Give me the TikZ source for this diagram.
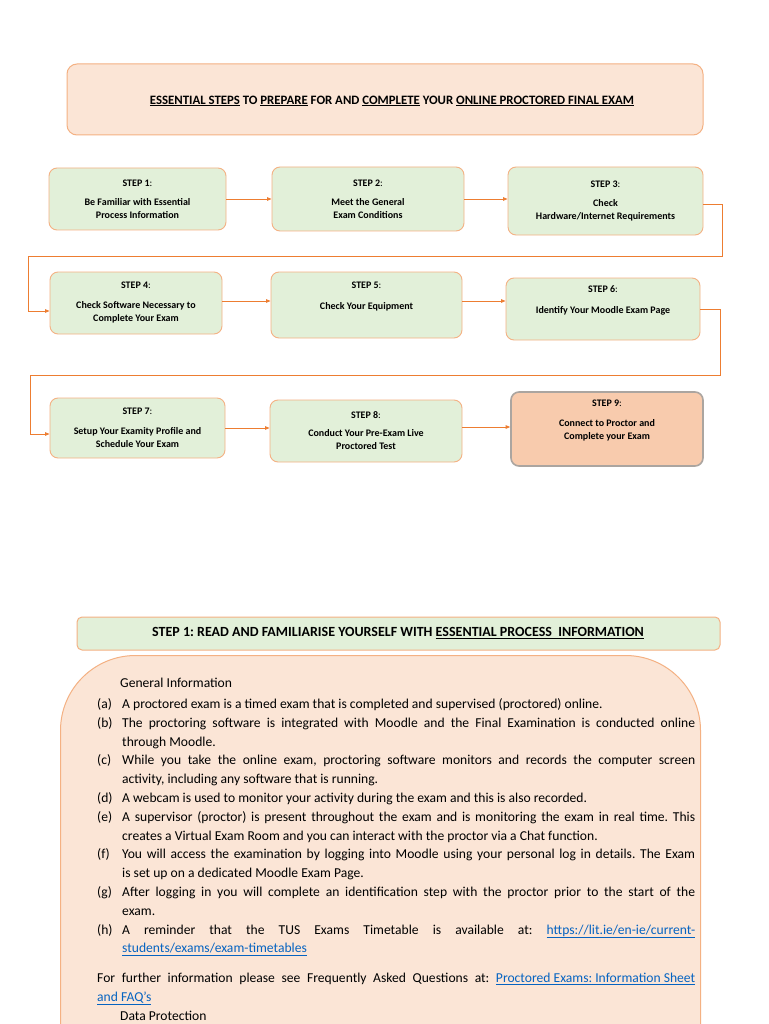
\documentclass[tikz,border=0pt]{standalone}
\usepackage{fontspec}
\setmainfont{Carlito}
\usetikzlibrary{arrows.meta}
\definecolor{gfill}{HTML}{E2F0D9}
\definecolor{pfill}{HTML}{FBE5D6}
\definecolor{pfillB}{HTML}{F8CBAD}
\definecolor{oline}{HTML}{F4B183}
\definecolor{oarrow}{HTML}{ED7D31}
\definecolor{gline}{HTML}{ABA5A0}
\definecolor{linkc}{HTML}{0563C1}
\newcommand\lnk[1]{\textcolor{linkc}{\underline{#1}}}
\newcommand\itm[1]{\par\hangindent=25pt\hangafter=1\noindent\makebox[25pt][l]{#1}}
\newcommand\stp[1]{STEP #1\textmd{:}}
\frenchspacing
\begin{document}
\begin{tikzpicture}[x=1pt,y=-1pt,
  stepbox/.style={draw=oline, fill=gfill, line width=0.9pt, rounded corners=8pt,
    align=center, font=\fontsize{10}{13}\selectfont\bfseries, inner sep=2pt},
  arr/.style={draw=oarrow, line width=0.8pt, -{Triangle[length=4.5pt,width=3.5pt]}},
  peachbox/.style={draw=oline, fill=pfill, line width=1pt}]
\useasboundingbox (0,0) rectangle (768,1024);
\clip (0,0) rectangle (768,1024);
\fill[white] (0,0) rectangle (768,1024);

% title
\node[peachbox, rounded corners=10pt, minimum width=636pt, minimum height=71pt] (titlebox) at (385,99.5) {};
\node[font=\fontsize{12.8}{14}\selectfont\bfseries] (titletext) at (392,101)
  {\underline{ESSENTIAL STEPS} TO \underline{PREPARE} FOR AND \underline{COMPLETE} YOUR \underline{ONLINE PROCTORED FINAL EXAM}};

% steps
\node[stepbox, minimum width=177pt, minimum height=62pt] (s1) at (137.5,199)
  {\stp{1}\\[6pt]Be Familiar with Essential\\Process Information};
\node[stepbox, minimum width=192pt, minimum height=64pt] (s2) at (368,199)
  {\stp{2}\\[6pt]Meet the General\\Exam Conditions};
\node[stepbox, minimum width=195pt, minimum height=68pt] (s3) at (605.5,201)
  {\stp{3}\\[6pt]Check\\Hardware/Internet Requirements};
\node[stepbox, minimum width=172pt, minimum height=62pt] (s4) at (136,303)
  {\stp{4}\\[7pt]Check Software Necessary to\\Complete Your Exam};
\node[stepbox, minimum width=191pt, minimum height=66pt] (s5) at (366.5,305)
  {\stp{5}\\[8pt]Check Your Equipment\\[5pt]};
\node[stepbox, minimum width=194pt, minimum height=62pt] (s6) at (603,309)
  {\stp{6}\\[8pt]Identify Your Moodle Exam Page\\[5pt]};
\node[stepbox, minimum width=175pt, minimum height=60pt] (s7) at (137.5,428)
  {\stp{7}\\[7pt]Setup Your Examity Profile and\\Schedule Your Exam};
\node[stepbox, minimum width=192pt, minimum height=62pt] (s8) at (366,431)
  {\stp{8}\\[5pt]Conduct Your Pre-Exam Live\\Proctored Test};
\node[stepbox, draw=gline, fill=pfillB, line width=1.6pt, minimum width=192pt, minimum height=74pt] (s9) at (607,429)
  {\stp{9}\\[7pt]Connect to Proctor and\\Complete your Exam\\[6pt]};

% arrows
\draw[arr] (s1.east) -- (s1.east -| s2.west);
\draw[arr] (s2.east) -- (s2.east -| s3.west);
\draw[arr] ([yshift=2pt]s4.east) -- ([yshift=2pt]s4.east -| s5.west);
\draw[arr] ([yshift=4pt]s5.east) -- ([yshift=4pt]s5.east -| s6.west);
\draw[arr] (s7.east) -- (s7.east -| s8.west);
\draw[arr] ([yshift=4pt]s8.east) -- ([yshift=4pt]s8.east -| s9.west);
\coordinate (r1) at (722,256);
\coordinate (l1) at (28,256);
\draw[arr] ([yshift=-3pt]s3.east) -| (r1) -- (l1) |- ([yshift=-8pt]s4.west);
\coordinate (r2) at (720,375);
\coordinate (l2) at (30,375);
\draw[arr] (s6.east) -| (r2) -- (l2) |- ([yshift=-6pt]s7.west);

% section header
\node[draw=oline, fill=gfill, line width=1pt, rounded corners=5pt, minimum width=643pt, minimum height=33pt] (hdr) at (398.5,633.5) {};
\node[font=\fontsize{14}{15}\selectfont\bfseries] (hdrtext) at (398,633)
  {STEP 1: READ AND FAMILIARISE YOURSELF WITH \underline{ESSENTIAL PROCESS\ \ INFORMATION}};

% info box
\node[peachbox, rounded corners=75pt, minimum width=640pt, minimum height=500pt, anchor=north west] (infobox) at (60,655) {};
\node[anchor=north west, inner sep=0pt, text width=598pt, align=justify, font=\fontsize{13.6}{18.8}\selectfont] (body) at (97,678) {%
\hspace*{23pt}General Information\par\vspace{2pt}
\itm{(a)}A proctored exam is a timed exam that is completed and supervised (proctored) online.
\itm{(b)}The proctoring software is integrated with Moodle and the Final Examination is conducted online\linebreak through Moodle.
\itm{(c)}While you take the online exam, proctoring software monitors and records the computer screen\linebreak activity, including any software that is running.
\itm{(d)}A webcam is used to monitor your activity during the exam and this is also recorded.
\itm{(e)}A supervisor (proctor) is present throughout the exam and is monitoring the exam in real time. This\linebreak creates a Virtual Exam Room and you can interact with the proctor via a Chat function.
\itm{(f)}You will access the examination by logging into Moodle using your personal log in details. The Exam\linebreak is set up on a dedicated Moodle Exam Page.
\itm{(g)}After logging in you will complete an identification step with the proctor prior to the start of the\linebreak exam.
\itm{(h)}A reminder that the TUS Exams Timetable is available at: \lnk{https://lit.ie/en-ie/current-}\linebreak\lnk{students/exams/exam-timetables}\par
\vspace{11pt}
\noindent For further information please see Frequently Asked Questions at: \lnk{Proctored Exams: Information Sheet}\linebreak\lnk{and FAQ’s}\par
\vspace{0pt}
\noindent\hspace*{23pt}Data Protection\par};
\end{tikzpicture}
\end{document}
